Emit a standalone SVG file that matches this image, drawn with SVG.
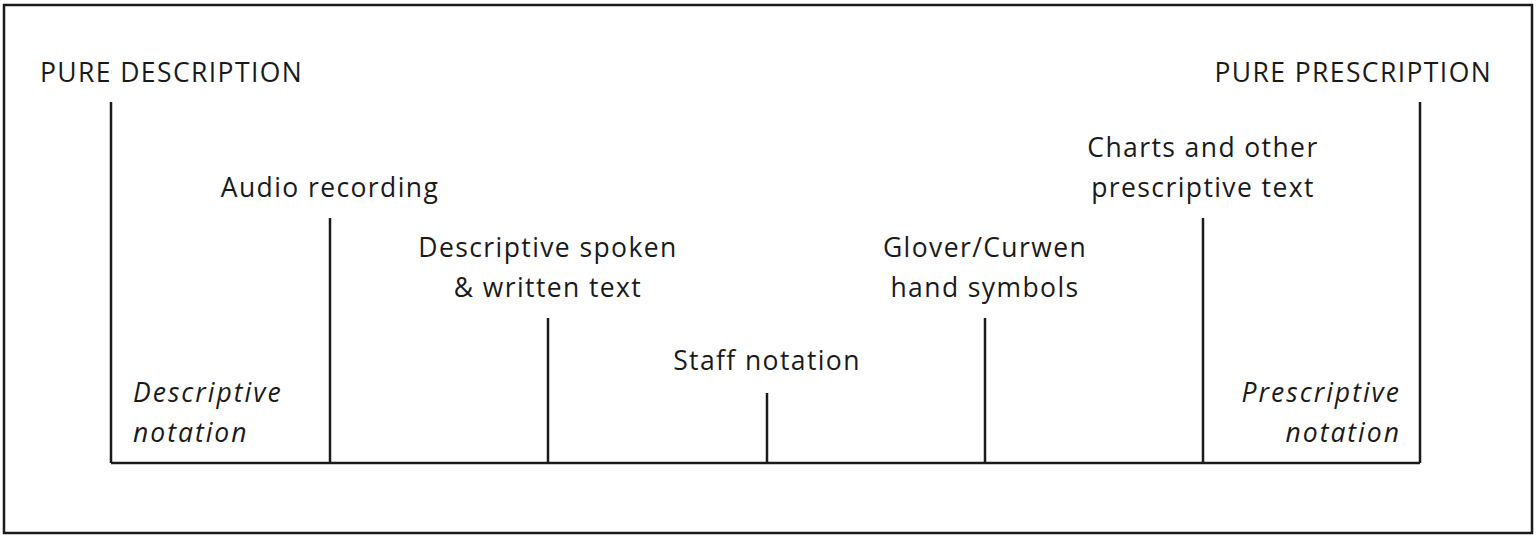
<svg xmlns="http://www.w3.org/2000/svg" width="1536" height="537" viewBox="0 0 1536 537">
<style>
.t{font-family:"Open Sans","Noto Sans",sans-serif;font-size:26.5px;letter-spacing:1.4px;fill:#1a1a1a}
.m{text-anchor:middle}
.i{font-style:italic;letter-spacing:2px}
.e{text-anchor:end}
.ln{stroke:#1a1a1a;stroke-width:2.5;fill:none}
</style>
<rect x="0" y="0" width="1536" height="537" fill="#fff"/>
<rect x="4" y="5" width="1528" height="528" class="ln"/>
<g id="connectors">
<line x1="111" y1="463" x2="1420" y2="463" class="ln"/>
<line x1="111" y1="102" x2="111" y2="463" class="ln"/>
<line x1="1420" y1="102" x2="1420" y2="463" class="ln"/>
<line x1="330" y1="218" x2="330" y2="463" class="ln"/>
<line x1="548" y1="318" x2="548" y2="463" class="ln"/>
<line x1="767" y1="393" x2="767" y2="463" class="ln"/>
<line x1="985" y1="318" x2="985" y2="463" class="ln"/>
<line x1="1203" y1="218" x2="1203" y2="463" class="ln"/>
</g>
<g id="pure-description"><text class="t" x="40" y="82">PURE DESCRIPTION</text></g>
<g id="pure-prescription"><text class="t e" x="1492" y="82">PURE PRESCRIPTION</text></g>
<g id="audio"><text class="t m" x="330" y="197">Audio recording</text></g>
<g id="descriptive-text"><text class="t m" x="548" y="257">Descriptive spoken</text><text class="t m" x="548" y="297">&amp; written text</text></g>
<g id="staff"><text class="t m" x="767" y="370">Staff notation</text></g>
<g id="glover"><text class="t m" x="985" y="257">Glover/Curwen</text><text class="t m" x="985" y="297">hand symbols</text></g>
<g id="charts"><text class="t m" x="1203" y="157">Charts and other</text><text class="t m" x="1203" y="197">prescriptive text</text></g>
<g id="descriptive-notation"><text class="t i" x="133" y="402">Descriptive</text><text class="t i" x="133" y="442">notation</text></g>
<g id="prescriptive-notation"><text class="t i e" x="1401" y="402">Prescriptive</text><text class="t i e" x="1401" y="442">notation</text></g>
</svg>
